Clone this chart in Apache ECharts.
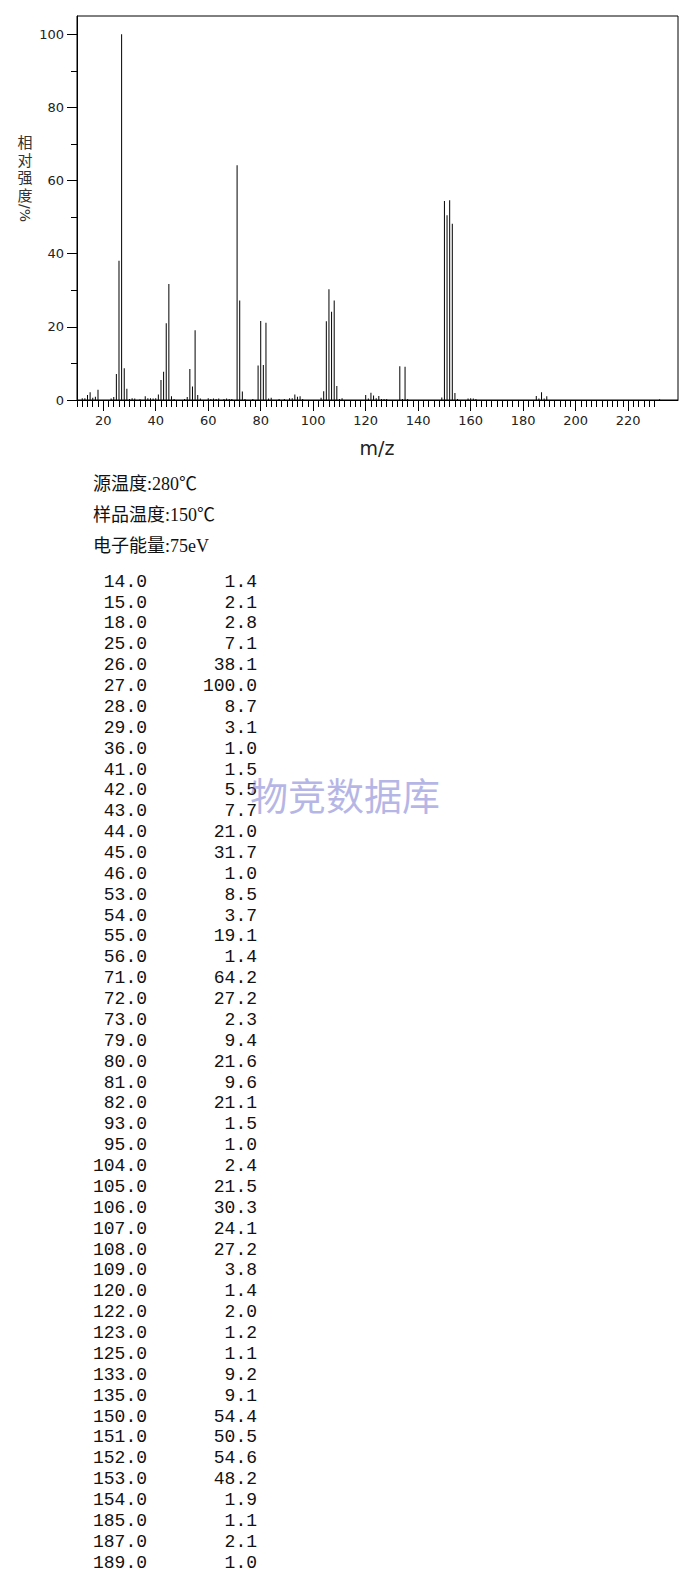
<!DOCTYPE html>
<html><head><meta charset="utf-8">
<script src="https://cdn.jsdelivr.net/npm/echarts@6/dist/echarts.min.js"></script>
<style>html,body{margin:0;padding:0;background:#fff}#c{width:687px;height:1587px}</style>
</head><body><div id="c"></div>
<script>
// ---- data ----
const mzValues = [12,13,14,15,16,17,18,23,24,25,26,27,28,29,30,31,32,34,36,37,38,39,40,41,42,43,44,45,46,47,51,52,53,54,55,56,57,60,61,62,63,64,66,67,68,69,71,72,73,74,77,79,80,81,82,83,84,87,89,91,92,93,94,95,96,103,104,105,106,107,108,109,110,111,120,121,122,123,124,125,126,127,128,133,134,135,136,149,150,151,152,153,154,155,159,160,161,162,185,186,187,188,189,232];
const intensities = [0.5,0.5,1.4,2.1,0.6,0.9,2.8,0.4,0.8,7.1,38.1,100.0,8.7,3.1,0.3,0.5,0.4,0.2,1.0,0.5,0.5,0.4,0.5,1.5,5.5,7.7,21.0,31.7,1.0,0.3,0.3,0.8,8.5,3.7,19.1,1.4,0.4,0.5,0.3,0.4,0.3,0.4,0.3,0.4,0.3,0.3,64.2,27.2,2.3,0.3,0.3,9.4,21.6,9.6,21.1,0.4,0.6,0.3,0.3,0.5,0.5,1.5,0.9,1.0,0.3,0.6,2.4,21.5,30.3,24.1,27.2,3.8,0.3,0.5,1.4,0.4,2.0,1.2,0.5,1.1,0.3,0.3,0.3,9.2,0.3,9.1,0.3,0.7,54.4,50.5,54.6,48.2,1.9,0.3,0.4,0.5,0.4,0.3,1.1,0.4,2.1,0.4,1.0,0.2];
const xTickLabels = [20,40,60,80,100,120,140,160,180,200,220];
const yTickLabels = [0,20,40,60,80,100];
const yMinorTicks = [10,30,50,70,90];
const infoLines = ['源温度:280℃','样品温度:150℃','电子能量:75eV'];
const yAxisTitle = '相对强度';
const yAxisUnit = '/%';
const xAxisTitle = 'm/z';
const watermark = '物竞数据库';
const tableThreshold = 1.0;

// ---- chart ----
const xMinorTicks = [];
for (let v = 10; v <= 230; v += 2) if (v % 20 !== 0) xMinorTicks.push(v);

const black = '#000';
const axisFont = {fontFamily:'DejaVu Sans', fontSize:13, color:'#222'};

const graphics = [];
graphics.push({type:'text', x:25, y:133, silent:true,
  style:{text:yAxisTitle.split('').join('\n'), font:'15px "Noto Sans CJK SC"', lineHeight:17.5, fill:'#333',
         textAlign:'center', textVerticalAlign:'top', align:'center', verticalAlign:'top'}});
graphics.push({type:'text', x:25, y:213, rotation:-Math.PI/2, silent:true,
  style:{text:yAxisUnit, font:'14px "DejaVu Sans"', fill:'#333', textAlign:'center', textVerticalAlign:'middle', align:'center', verticalAlign:'middle'}});
graphics.push({type:'text', x:377, y:448, silent:true,
  style:{text:xAxisTitle, font:'19px "DejaVu Sans"', fill:'#222', textAlign:'center', textVerticalAlign:'middle', align:'center', verticalAlign:'middle'}});
infoLines.forEach((t, i) => {
  graphics.push({type:'text', x:93, y:483.5 + i*31, silent:true,
    style:{text:t, font:'18px "Liberation Serif","Noto Sans CJK SC"', fill:'#111', textAlign:'left', textVerticalAlign:'middle', align:'left', verticalAlign:'middle'}});
});
let row = 0;
mzValues.forEach((m, i) => {
  const v = intensities[i];
  if (v < tableThreshold) return;
  const y = 581.7 + row*20.87;
  graphics.push({type:'text', x:147, y:y, silent:true,
    style:{text:m.toFixed(1), font:'18px "Liberation Mono"', fill:'#111', textAlign:'right', textVerticalAlign:'middle', align:'right', verticalAlign:'middle'}});
  graphics.push({type:'text', x:257, y:y, silent:true,
    style:{text:v.toFixed(1), font:'18px "Liberation Mono"', fill:'#111', textAlign:'right', textVerticalAlign:'middle', align:'right', verticalAlign:'middle'}});
  row++;
});
graphics.push({type:'text', x:345, y:793, silent:true, z:100,
  style:{text:watermark, font:'38px "Noto Sans CJK SC"', fill:'rgba(110,110,205,0.5)', textAlign:'center', textVerticalAlign:'middle', align:'center', verticalAlign:'middle'}});

const chart = echarts.init(document.getElementById('c'), null, {renderer:'svg', width:687, height:1587});
chart.setOption({
  animation:false,
  backgroundColor:'#fff',
  grid:{left:77, top:16, width:601, height:384, show:true, borderColor:black, borderWidth:1, containLabel:false},
  xAxis:[
    {type:'value', min:10, max:239, position:'bottom',
     axisLine:{show:true, onZero:false, lineStyle:{color:black, width:1}},
     axisTick:{show:true, customValues:xTickLabels, length:11, lineStyle:{color:black, width:1}},
     axisLabel:Object.assign({customValues:xTickLabels, margin:14}, axisFont),
     splitLine:{show:false}},
    {type:'value', min:10, max:239, position:'bottom',
     axisLine:{show:false, onZero:false},
     axisTick:{show:true, customValues:xMinorTicks, length:7, lineStyle:{color:black, width:1}},
     axisLabel:{show:false}, splitLine:{show:false}}
  ],
  yAxis:[
    {type:'value', min:0, max:105, position:'left',
     axisLine:{show:true, onZero:false, lineStyle:{color:black, width:1}},
     axisTick:{show:true, customValues:yTickLabels, length:10, lineStyle:{color:black, width:1}},
     axisLabel:Object.assign({customValues:yTickLabels, margin:13}, axisFont),
     splitLine:{show:false}},
    {type:'value', min:0, max:105, position:'left',
     axisLine:{show:false, onZero:false},
     axisTick:{show:true, customValues:yMinorTicks, length:6, lineStyle:{color:black, width:1}},
     axisLabel:{show:false}, splitLine:{show:false}}
  ],
  series:[{
    type:'bar', xAxisIndex:0, yAxisIndex:0, barWidth:1, silent:true,
    itemStyle:{color:black},
    data:mzValues.map((m, i) => [m, intensities[i]])
  }],
  graphic:graphics
});
</script>
</body></html>
